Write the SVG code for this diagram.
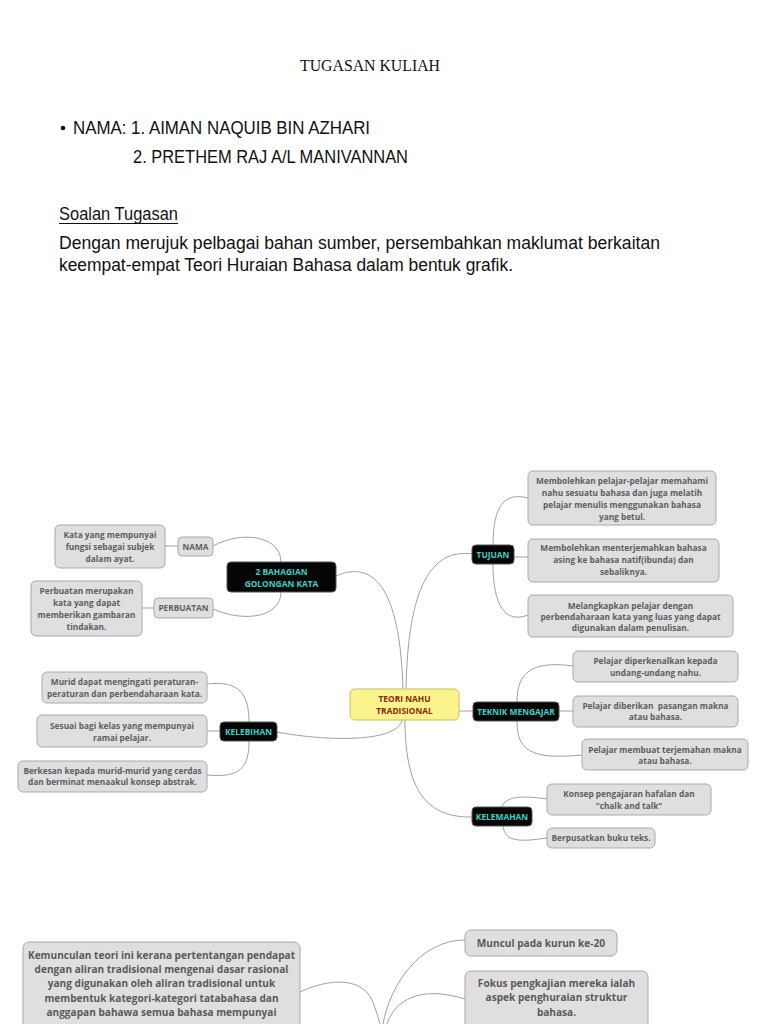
<svg xmlns="http://www.w3.org/2000/svg" width="768" height="1024" viewBox="0 0 768 1024">
<style>
.hd{font-family:"Liberation Sans Narrow","Liberation Sans",sans-serif;fill:#111}
.ttl{font-family:"Liberation Serif",serif;font-size:16px;fill:#111;text-anchor:middle}
.lnk{fill:none;stroke:#a0a0a0;stroke-width:1}
.blk{fill:#050505;stroke:#555;stroke-width:1}
.bt{font-family:"Open Sans","DejaVu Sans",sans-serif;font-weight:700;font-size:8.4px;fill:#3ccfc6;text-anchor:middle}
.gry{fill:#dfdfdf;stroke:#a9a9a9;stroke-width:1}
.gt{font-family:"Open Sans","DejaVu Sans",sans-serif;font-weight:700;font-size:8.3px;fill:#5e5e5e;text-anchor:middle}
.gl{font-family:"Open Sans","DejaVu Sans",sans-serif;font-weight:700;font-size:10.1px;fill:#5a5a5a;text-anchor:middle}
.yel{fill:#fbf38c;stroke:#c9bd6a;stroke-width:1}
.yt{font-family:"Open Sans","DejaVu Sans",sans-serif;font-weight:700;font-size:8.4px;fill:#8a2a0a;text-anchor:middle}
</style>
<rect width="768" height="1024" fill="#ffffff"/>

<g id="header">
<text class="ttl" x="370" y="71" textLength="140" lengthAdjust="spacingAndGlyphs">TUGASAN KULIAH</text>
<circle cx="63" cy="128" r="2.3" fill="#111"/>
<text class="hd" x="73" y="134" font-size="17.5" textLength="297" lengthAdjust="spacingAndGlyphs">NAMA: 1. AIMAN NAQUIB BIN AZHARI</text>
<text class="hd" x="133" y="163" font-size="17.5" textLength="275" lengthAdjust="spacingAndGlyphs">2. PRETHEM RAJ A/L MANIVANNAN</text>
<text class="hd" x="59" y="220" font-size="17.5" textLength="119" lengthAdjust="spacingAndGlyphs">Soalan Tugasan</text>
<line x1="59" y1="223.5" x2="178" y2="223.5" stroke="#111" stroke-width="1"/>
<text class="hd" x="59" y="249" font-size="17.5" textLength="601" lengthAdjust="spacingAndGlyphs">Dengan merujuk pelbagai bahan sumber, persembahkan maklumat berkaitan</text>
<text class="hd" x="59" y="271" font-size="17.5" textLength="454" lengthAdjust="spacingAndGlyphs">keempat-empat Teori Huraian Bahasa dalam bentuk grafik.</text>
</g>

<g id="connectors">
<path class="lnk" d="M336,576 C372,560 400,585 403,689"/>
<path class="lnk" d="M473,554 C432,548 408,585 406,689"/>
<path class="lnk" d="M277,732 C330,742 398,742 402,720"/>
<path class="lnk" d="M405,720 C405,795 430,818 473,817"/>
<path class="lnk" d="M459,711 L473,711"/>
<path class="lnk" d="M213,546 C242,530 281,536 281,562"/>
<path class="lnk" d="M213,609 C245,623 281,617 281,592"/>
<path class="lnk" d="M165,546 L178,546"/>
<path class="lnk" d="M142,608 L154,608"/>
<path class="lnk" d="M493,545 C493,505 505,492 528,498"/>
<path class="lnk" d="M514,557 L528,557"/>
<path class="lnk" d="M493,564 C493,605 505,624 528,615"/>
<path class="lnk" d="M517,702 C517,674 530,660 573,666"/>
<path class="lnk" d="M559,711 L573,711"/>
<path class="lnk" d="M517,721 C517,750 530,760 582,755"/>
<path class="lnk" d="M207,684 C240,680 249,695 249,722"/>
<path class="lnk" d="M207,731 L220,731"/>
<path class="lnk" d="M249,741 C249,768 240,778 207,775"/>
<path class="lnk" d="M502,807 C505,797 520,795 547,799"/>
<path class="lnk" d="M503,826 C505,842 520,842 547,838"/>
<path class="lnk" d="M300,992 C325,980 360,975 372,1000 C376,1010 379,1020 380,1024"/>
<path class="lnk" d="M383,1024 C390,985 420,940 465,940"/>
<path class="lnk" d="M387,1024 C395,1000 420,985 465,999"/>
</g>

<g id="n-center">
<rect class="yel" x="350" y="689" width="109" height="31" rx="5"/>
<text class="yt" x="404.5" y="701.5">TEORI NAHU</text>
<text class="yt" x="404.5" y="713.5">TRADISIONAL</text>
</g>

<g id="n-bahagian">
<rect class="blk" x="227" y="562" width="109" height="30" rx="4"/>
<text class="bt" x="281.5" y="575">2 BAHAGIAN</text>
<text class="bt" x="281.5" y="586.5">GOLONGAN KATA</text>
</g>
<g id="n-nama">
<rect class="gry" x="178" y="537" width="35" height="19" rx="4"/>
<text class="gt" x="195.5" y="549.5">NAMA</text>
</g>
<g id="n-nama-d">
<rect class="gry" x="55" y="525" width="110" height="43" rx="5"/>
<text class="gt" x="110" y="538">Kata yang mempunyai</text>
<text class="gt" x="110" y="550">fungsi sebagai subjek</text>
<text class="gt" x="110" y="562">dalam ayat.</text>
</g>
<g id="n-perbuatan">
<rect class="gry" x="154" y="598" width="59" height="20" rx="4"/>
<text class="gt" x="183.5" y="611">PERBUATAN</text>
</g>
<g id="n-perbuatan-d">
<rect class="gry" x="31" y="581" width="111" height="55" rx="5"/>
<text class="gt" x="86.5" y="594">Perbuatan merupakan</text>
<text class="gt" x="86.5" y="605.5">kata yang dapat</text>
<text class="gt" x="86.5" y="617.5">memberikan gambaran</text>
<text class="gt" x="86.5" y="629.5">tindakan.</text>
</g>

<g id="n-tujuan">
<rect class="blk" x="472" y="545" width="42" height="19" rx="4"/>
<text class="bt" x="493" y="557.5">TUJUAN</text>
</g>
<g id="n-tujuan-1">
<rect class="gry" x="528" y="471" width="188" height="54" rx="5"/>
<text class="gt" x="622" y="484">Membolehkan pelajar-pelajar memahami</text>
<text class="gt" x="622" y="496">nahu sesuatu bahasa dan juga melatih</text>
<text class="gt" x="622" y="508">pelajar menulis menggunakan bahasa</text>
<text class="gt" x="622" y="520">yang betul.</text>
</g>
<g id="n-tujuan-2">
<rect class="gry" x="528" y="539" width="191" height="43" rx="5"/>
<text class="gt" x="623.5" y="551">Membolehkan menterjemahkan bahasa</text>
<text class="gt" x="623.5" y="563">asing ke bahasa natif(ibunda) dan</text>
<text class="gt" x="623.5" y="575">sebaliknya.</text>
</g>
<g id="n-tujuan-3">
<rect class="gry" x="528" y="595" width="205" height="42" rx="5"/>
<text class="gt" x="630.5" y="608.5">Melangkapkan pelajar dengan</text>
<text class="gt" x="630.5" y="620">perbendaharaan kata yang luas yang dapat</text>
<text class="gt" x="630.5" y="631">digunakan dalam penulisan.</text>
</g>

<g id="n-teknik">
<rect class="blk" x="473" y="702" width="86" height="19" rx="4"/>
<text class="bt" x="516" y="714.5">TEKNIK MENGAJAR</text>
</g>
<g id="n-teknik-1">
<rect class="gry" x="573" y="651" width="165" height="31" rx="5"/>
<text class="gt" x="655.5" y="664">Pelajar diperkenalkan kepada</text>
<text class="gt" x="655.5" y="676">undang-undang nahu.</text>
</g>
<g id="n-teknik-2">
<rect class="gry" x="573" y="696" width="165" height="31" rx="5"/>
<text class="gt" x="655.5" y="708.5" xml:space="preserve">Pelajar diberikan  pasangan makna</text>
<text class="gt" x="655.5" y="720">atau bahasa.</text>
</g>
<g id="n-teknik-3">
<rect class="gry" x="582" y="739" width="166" height="31" rx="5"/>
<text class="gt" x="665" y="752.5">Pelajar membuat terjemahan makna</text>
<text class="gt" x="665" y="764">atau bahasa.</text>
</g>

<g id="n-kelebihan">
<rect class="blk" x="220" y="722" width="57" height="19" rx="4"/>
<text class="bt" x="248.5" y="734.5">KELEBIHAN</text>
</g>
<g id="n-kelebihan-1">
<rect class="gry" x="42" y="672" width="165" height="31" rx="5"/>
<text class="gt" x="124.5" y="684.5">Murid dapat mengingati peraturan-</text>
<text class="gt" x="124.5" y="696.5">peraturan dan perbendaharaan kata.</text>
</g>
<g id="n-kelebihan-2">
<rect class="gry" x="37" y="715" width="170" height="32" rx="5"/>
<text class="gt" x="122" y="729">Sesuai bagi kelas yang mempunyai</text>
<text class="gt" x="122" y="741">ramai pelajar.</text>
</g>
<g id="n-kelebihan-3">
<rect class="gry" x="18" y="761" width="189" height="31" rx="5"/>
<text class="gt" x="112.5" y="773.5">Berkesan kepada murid-murid yang cerdas</text>
<text class="gt" x="112.5" y="785">dan berminat menaakul konsep abstrak.</text>
</g>

<g id="n-kelemahan">
<rect class="blk" x="472" y="807" width="60" height="19" rx="4"/>
<text class="bt" x="502" y="819.5">KELEMAHAN</text>
</g>
<g id="n-kelemahan-1">
<rect class="gry" x="547" y="784" width="164" height="31" rx="5"/>
<text class="gt" x="629" y="796.5">Konsep pengajaran hafalan dan</text>
<text class="gt" x="629" y="808.5">"chalk and talk"</text>
</g>
<g id="n-kelemahan-2">
<rect class="gry" x="547" y="828" width="108" height="20" rx="5"/>
<text class="gt" x="601" y="841">Berpusatkan buku teks.</text>
</g>

<g id="n-bottom-left">
<rect class="gry" x="23" y="942" width="277" height="100" rx="6"/>
<text class="gl" x="161.5" y="958.5">Kemunculan teori ini kerana pertentangan pendapat</text>
<text class="gl" x="161.5" y="973">dengan aliran tradisional mengenai dasar rasional</text>
<text class="gl" x="161.5" y="987">yang digunakan oleh aliran tradisional untuk</text>
<text class="gl" x="161.5" y="1001.5">membentuk kategori-kategori tatabahasa dan</text>
<text class="gl" x="161.5" y="1015.5">anggapan bahawa semua bahasa mempunyai</text>
</g>
<g id="n-muncul">
<rect class="gry" x="465" y="930" width="152" height="26" rx="6"/>
<text class="gl" x="541" y="946.5">Muncul pada kurun ke-20</text>
</g>
<g id="n-fokus">
<rect class="gry" x="465" y="971" width="183" height="70" rx="6"/>
<text class="gl" x="556.5" y="986.5">Fokus pengkajian mereka ialah</text>
<text class="gl" x="556.5" y="1001">aspek penghuraian struktur</text>
<text class="gl" x="556.5" y="1015.5">bahasa.</text>
</g>
</svg>
